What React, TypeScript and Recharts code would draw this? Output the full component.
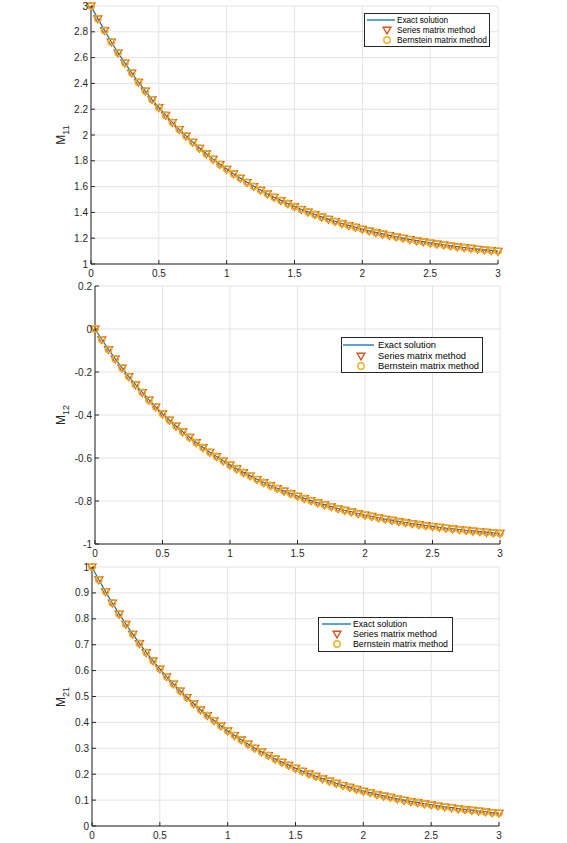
import React from 'react';
import { ComposedChart, Line, XAxis, YAxis, CartesianGrid } from 'recharts';

// time grid (markers every 0.05)
const T = [
  0, 0.05, 0.1, 0.15, 0.2, 0.25, 0.3, 0.35, 0.4, 0.45,
  0.5, 0.55, 0.6, 0.65, 0.7, 0.75, 0.8, 0.85, 0.9, 0.95,
  1, 1.05, 1.1, 1.15, 1.2, 1.25, 1.3, 1.35, 1.4, 1.45,
  1.5, 1.55, 1.6, 1.65, 1.7, 1.75, 1.8, 1.85, 1.9, 1.95,
  2, 2.05, 2.1, 2.15, 2.2, 2.25, 2.3, 2.35, 2.4, 2.45,
  2.5, 2.55, 2.6, 2.65, 2.7, 2.75, 2.8, 2.85, 2.9, 2.95, 3,
];

const M11 = [
  3.0, 2.902, 2.81, 2.721, 2.637, 2.558, 2.482, 2.409, 2.341, 2.275,
  2.213, 2.154, 2.098, 2.044, 1.993, 1.945, 1.899, 1.855, 1.813, 1.773,
  1.736, 1.7, 1.666, 1.633, 1.602, 1.573, 1.545, 1.518, 1.493, 1.469,
  1.446, 1.424, 1.404, 1.384, 1.365, 1.348, 1.331, 1.314, 1.299, 1.285,
  1.271, 1.257, 1.245, 1.233, 1.222, 1.211, 1.201, 1.191, 1.181, 1.173,
  1.164, 1.156, 1.149, 1.141, 1.134, 1.128, 1.122, 1.116, 1.11, 1.105, 1.1,
];

const M12 = [
  0, -0.049, -0.095, -0.139, -0.181, -0.221, -0.259, -0.295, -0.33, -0.362,
  -0.394, -0.423, -0.451, -0.478, -0.503, -0.528, -0.551, -0.573, -0.593, -0.613,
  -0.632, -0.65, -0.667, -0.683, -0.699, -0.714, -0.728, -0.741, -0.753, -0.765,
  -0.777, -0.788, -0.798, -0.808, -0.817, -0.826, -0.835, -0.843, -0.85, -0.858,
  -0.865, -0.871, -0.878, -0.884, -0.889, -0.895, -0.9, -0.905, -0.909, -0.914,
  -0.918, -0.922, -0.926, -0.929, -0.933, -0.936, -0.939, -0.942, -0.945, -0.948, -0.95,
];

const M21 = [
  1.0, 0.951, 0.905, 0.861, 0.819, 0.779, 0.741, 0.705, 0.67, 0.638,
  0.607, 0.577, 0.549, 0.522, 0.497, 0.472, 0.449, 0.427, 0.407, 0.387,
  0.368, 0.35, 0.333, 0.317, 0.301, 0.287, 0.273, 0.259, 0.247, 0.235,
  0.223, 0.212, 0.202, 0.192, 0.183, 0.174, 0.165, 0.157, 0.15, 0.142,
  0.135, 0.129, 0.122, 0.116, 0.111, 0.105, 0.1, 0.095, 0.091, 0.086,
  0.082, 0.078, 0.074, 0.071, 0.067, 0.064, 0.061, 0.058, 0.055, 0.052, 0.05,
];

const X_TICKS = [0, 0.5, 1, 1.5, 2, 2.5, 3];
const M11_TICKS = [1, 1.2, 1.4, 1.6, 1.8, 2, 2.2, 2.4, 2.6, 2.8, 3];
const M12_TICKS = [-1, -0.8, -0.6, -0.4, -0.2, 0, 0.2];
const M21_TICKS = [0, 0.1, 0.2, 0.3, 0.4, 0.5, 0.6, 0.7, 0.8, 0.9, 1];

const LEGEND_LABELS = ['Exact solution', 'Series matrix method', 'Bernstein matrix method'];

const BLUE = '#0072BD';
const RED = '#D95319';
const YELLOW = '#EDB120';
const AXIS = '#262626';
const GRID = '#e3e3e3';
const FONT = '"Liberation Sans", Arial, Helvetica, sans-serif';

// same values for all three methods, they overlap in the figure
const rows = (vals: number[]) =>
  T.map((t, i) => ({ t, exact: vals[i], series: vals[i], bern: vals[i] }));

const triPath = (cx: number, cy: number) =>
  `M${cx - 3.9},${cy - 2.7}L${cx + 3.9},${cy - 2.7}L${cx},${cy + 3.9}Z`;

const Tri = (p: any) => {
  const { cx, cy, index } = p;
  if (cx == null || cy == null) return <g key={`tri-${index}`} />;
  return <path key={`tri-${index}`} d={triPath(cx, cy)} fill="none" stroke={RED} strokeWidth={1.4} />;
};

const Circ = (p: any) => {
  const { cx, cy, index } = p;
  if (cx == null || cy == null) return <g key={`c-${index}`} />;
  return <circle key={`c-${index}`} cx={cx} cy={cy} r={3.2} fill="none" stroke={YELLOW} strokeWidth={1.4} />;
};

type LegendCfg = {
  x: number; y: number; w: number; h: number; fs: number;
  l1: number; l2: number; sym: number; text: number; rowY: number[]; widths: number[];
};

function Legend({ cfg }: { cfg: LegendCfg }) {
  const { x, y, w, h, fs, l1, l2, sym, text, rowY, widths } = cfg;
  return (
    <svg width={w} height={h} style={{ position: 'absolute', left: x, top: y }}>
      <rect x={0.5} y={0.5} width={w - 1} height={h - 1} fill="#fff" stroke={AXIS} />
      <line x1={l1} x2={l2} y1={rowY[0]} y2={rowY[0]} stroke={BLUE} strokeWidth={1.3} />
      <path d={triPath(sym, rowY[1])} fill="none" stroke={RED} strokeWidth={1.4} />
      <circle cx={sym} cy={rowY[2]} r={3.2} fill="none" stroke={YELLOW} strokeWidth={1.4} />
      {LEGEND_LABELS.map((s, i) => (
        <text
          key={s} x={text} y={rowY[i]} dominantBaseline="central" fontSize={fs} fontFamily={FONT} fill="#000"
          textLength={widths[i]} lengthAdjust="spacingAndGlyphs"
        >
          {s}
        </text>
      ))}
    </svg>
  );
}

type PanelProps = {
  top: number; height: number; marginTop: number; yWidth: number; right: number;
  vals: number[]; domain: [number, number]; ticks: number[]; sub: string; legend: LegendCfg;
};

function Panel({ top, height, marginTop, yWidth, right, vals, domain, ticks, sub, legend }: PanelProps) {
  const tickStyle = { fill: AXIS, fontSize: 10, fontFamily: FONT };
  const plotMid = (marginTop + height - 16) / 2;
  return (
    <div style={{ position: 'absolute', left: 0, top, width: 567, height }}>
      <ComposedChart width={567} height={height} data={rows(vals)} margin={{ top: marginTop, right, bottom: 0, left: 0 }}>
        <CartesianGrid stroke={GRID} />
        <XAxis
          type="number" dataKey="t" domain={[0, 3]} ticks={X_TICKS} interval={0}
          height={16} tickSize={-4} tickMargin={10} stroke={AXIS} tick={tickStyle}
        />
        <YAxis
          type="number" domain={domain} ticks={ticks} interval={0}
          width={yWidth} tickSize={-4} tickMargin={7} stroke={AXIS} tick={tickStyle}
        />
        <Line dataKey="exact" stroke={BLUE} strokeWidth={1.2} dot={false} activeDot={false} isAnimationActive={false} />
        <Line dataKey="series" stroke="none" dot={Tri} activeDot={false} isAnimationActive={false} />
        <Line dataKey="bern" stroke="none" dot={Circ} activeDot={false} isAnimationActive={false} />
      </ComposedChart>
      <div
        style={{
          position: 'absolute', left: 63, top: plotMid, transform: 'translate(-50%, -50%) rotate(-90deg)',
          fontFamily: FONT, fontSize: 12, color: AXIS, whiteSpace: 'nowrap', lineHeight: 1,
        }}
      >
        M<sub style={{ fontSize: 9 }}>{sub}</sub>
      </div>
      <Legend cfg={legend} />
    </div>
  );
}

export default function App() {
  return (
    <div style={{ position: 'absolute', left: 0, top: 0, width: 567, height: 843, background: '#fff' }}>
      <Panel
        top={0} height={280} marginTop={6} yWidth={91} right={69}
        vals={M11} domain={[1, 3]} ticks={M11_TICKS} sub="11"
        legend={{
          x: 364, y: 13, w: 126, h: 34, fs: 8.4, l1: 3, l2: 31, sym: 23, text: 33,
          rowY: [7, 17, 27], widths: [51, 78, 90],
        }}
      />
      <Panel
        top={280} height={280} marginTop={6} yWidth={95} right={67}
        vals={M12} domain={[-1, 0.2]} ticks={M12_TICKS} sub="12"
        legend={{
          x: 341, y: 57, w: 142, h: 36, fs: 9.3, l1: 2, l2: 33, sym: 20, text: 37,
          rowY: [8, 19, 29], widths: [58, 88, 101],
        }}
      />
      <Panel
        top={560} height={282} marginTop={7} yWidth={92} right={68}
        vals={M21} domain={[0, 1]} ticks={M21_TICKS} sub="21"
        legend={{
          x: 318, y: 57, w: 135, h: 35, fs: 8.8, l1: 4, l2: 33, sym: 19, text: 35,
          rowY: [7, 17, 27], widths: [54, 84, 95],
        }}
      />
    </div>
  );
}
